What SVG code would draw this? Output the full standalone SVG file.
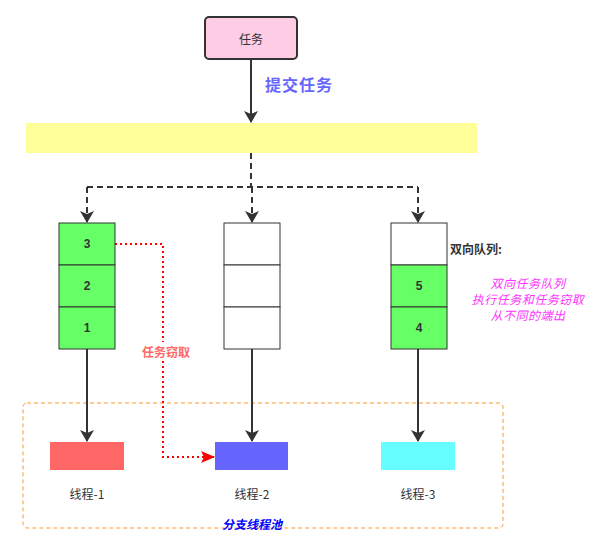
<svg xmlns="http://www.w3.org/2000/svg" width="599" height="555" viewBox="0 0 599 555">
<defs>
<marker id="blk" viewBox="0 0 12 14" refX="11" refY="7" markerWidth="12" markerHeight="14" orient="auto" markerUnits="userSpaceOnUse">
<path d="M0,0 L12,7 L0,14 L3,7 Z" fill="#333333"/>
</marker>
<marker id="red" viewBox="0 0 14 12" refX="13" refY="6" markerWidth="14" markerHeight="12" orient="auto" markerUnits="userSpaceOnUse">
<path d="M0,0 L14,6 L0,12 L3,6 Z" fill="#FF0000"/>
</marker>
</defs>
<style>
text{font-family:"Noto Sans CJK SC","Liberation Sans",sans-serif;font-size:12px;fill:#333333;text-anchor:middle;dominant-baseline:central}
.cell{stroke:#333333;stroke-width:1}
.g{fill:#66FF66}
.w{fill:#FFFFFF}
.num{font-weight:bold;font-family:"Liberation Sans","Noto Sans CJK SC",sans-serif}
.solid{fill:none;stroke:#333333;stroke-width:2;marker-end:url(#blk)}
.dash{fill:none;stroke:#333333;stroke-width:2;stroke-dasharray:6 4}
.note{fill:#FF33FF;font-style:italic;font-size:12px;letter-spacing:0.5px}
</style>
<g id="pool">
<rect x="23" y="403" width="480" height="125" rx="4" fill="none" stroke="#FF9933" stroke-dasharray="4 3"/>
<text x="252" y="523" style="fill:#0000FF;font-style:italic;font-weight:bold">分支线程池</text>
</g>
<g id="connectors">
<path class="solid" d="M251,59 L251,122"/>
<path class="dash" d="M251,153 L251,187 M87,187 L418,187"/>
<path class="dash" d="M87,187 L87,222" marker-end="url(#blk)"/>
<path class="dash" d="M252,187 L252,222" marker-end="url(#blk)"/>
<path class="dash" d="M418,187 L418,222" marker-end="url(#blk)"/>
<path class="solid" d="M87,349 L87,441"/>
<path class="solid" d="M252,349 L252,441"/>
<path class="solid" d="M418,349 L418,441"/>
<path d="M115,244 L163,244 L163,457 L214,457" fill="none" stroke="#FF0000" stroke-width="2" stroke-dasharray="2 3" marker-end="url(#red)"/>
</g>
<g id="task">
<rect x="205" y="17" width="92" height="42" rx="4" fill="#FFCCE6" stroke="#333333" stroke-width="2"/>
<text x="251" y="38">任务</text>
</g>
<text x="299" y="84" style="fill:#6666FF;font-weight:bold;font-size:16px;letter-spacing:1px;font-family:'Noto Sans CJK SC',serif">提交任务</text>
<g id="bar">
<rect x="26" y="123" width="451" height="30" fill="#FFFF99"/>
</g>
<g id="queue1">
<rect class="cell g" x="59" y="223" width="56" height="42"/>
<rect class="cell g" x="59" y="265" width="56" height="42"/>
<rect class="cell g" x="59" y="307" width="56" height="42"/>
<text class="num" x="87" y="244">3</text>
<text class="num" x="87" y="286">2</text>
<text class="num" x="87" y="328">1</text>
</g>
<g id="queue2">
<rect class="cell w" x="224" y="223" width="56" height="42"/>
<rect class="cell w" x="224" y="265" width="56" height="42"/>
<rect class="cell w" x="224" y="307" width="56" height="42"/>
</g>
<g id="queue3">
<rect class="cell w" x="391" y="223" width="56" height="42"/>
<rect class="cell g" x="391" y="265" width="56" height="42"/>
<rect class="cell g" x="391" y="307" width="56" height="42"/>
<text class="num" x="419" y="286">5</text>
<text class="num" x="419" y="328">4</text>
</g>
<g id="steal-label">
<rect x="138" y="342" width="56" height="18" fill="#FFFFFF"/>
<text x="166" y="351" style="fill:#FF6666;font-weight:bold">任务窃取</text>
</g>
<g id="deque-label">
<text x="450" y="248" style="text-anchor:start;font-weight:bold">双向队列:</text>
</g>
<g id="deque-note">
<text class="note" x="528" y="282">双向任务队列</text>
<text class="note" x="528" y="298">执行任务和任务窃取</text>
<text class="note" x="528" y="314">从不同的端出</text>
</g>
<g id="thread1">
<rect x="50" y="442" width="74" height="28" fill="#FF6666"/>
<text x="87" y="493">线程-1</text>
</g>
<g id="thread2">
<rect x="215" y="442" width="73" height="28" fill="#6666FF"/>
<text x="252" y="493">线程-2</text>
</g>
<g id="thread3">
<rect x="381" y="442" width="74" height="28" fill="#66FFFF"/>
<text x="418" y="493">线程-3</text>
</g>
</svg>
